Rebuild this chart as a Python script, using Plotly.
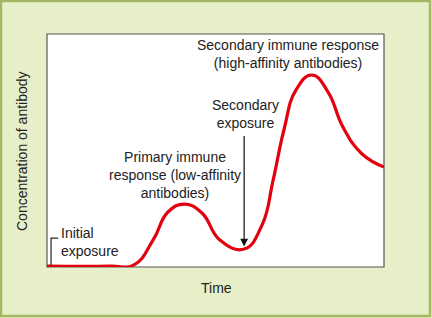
import plotly.graph_objects as go

# Curve of antibody concentration (arbitrary units, 0-100 scales)
time_vals = [0, 18.7, 25.8, 31.5, 35.9, 40.9, 46.0, 51.3, 58.5, 63.8, 67.1, 70.3,
             73.9, 78.6, 83.4, 87.8, 93.5, 100]
conc_vals = [0.4, 0.4, 0.9, 11.6, 23.6, 27.0, 23.2, 11.6, 7.7, 18.0, 37.3, 58.8,
             76.0, 82.4, 75.1, 60.1, 48.5, 42.9]

W, H = 432, 318
L, R, T, B = 47, 384, 34, 267
FONT = "Liberation Sans, Arial, sans-serif"
TXT = "#222222"
FS = 14


def px(x):
    return (x - L) / (R - L)


def py(y):
    return (B - y) / (B - T)


fig = go.Figure()
fig.add_trace(go.Scatter(x=time_vals, y=conc_vals, mode="lines",
                         line=dict(color="#e3000f", width=3.2, shape="spline", smoothing=1.3),
                         cliponaxis=False, hoverinfo="skip", showlegend=False))

annots = [
    dict(x=71.5, y=91.6, text="Secondary immune response<br>(high-affinity antibodies)"),
    dict(x=58.8, y=65.5, text="Secondary<br>exposure"),
    dict(x=38.0, y=39.5, text="Primary immune<br>response (low-affinity<br>antibodies)"),
]
for a in annots:
    fig.add_annotation(x=a["x"], y=a["y"], xref="x", yref="y", text=a["text"],
                       showarrow=False, xanchor="center", yanchor="middle", align="center",
                       font=dict(family=FONT, size=FS, color=TXT))

fig.add_annotation(x=3.5, y=10.7, xref="x", yref="y", text="Initial<br>exposure",
                   showarrow=False, xanchor="left", yanchor="middle", align="left",
                   font=dict(family=FONT, size=FS, color=TXT))

# secondary exposure arrow
fig.add_annotation(x=58.5, y=8.8, xref="x", yref="y", ax=0, ay=-112, text="",
                   showarrow=True, arrowhead=2, arrowsize=1.3, arrowwidth=1.2, arrowcolor="#111111")

# initial exposure bracket
fig.add_shape(type="path", xref="x", yref="y",
              path="M 1.2,0.4 L 1.2,12.4 L 3.3,12.4",
              line=dict(color="#222222", width=1.2))

# axis titles
fig.add_annotation(x=px(216), y=py(288), xref="paper", yref="paper", text="Time",
                   showarrow=False, xanchor="center", yanchor="middle",
                   font=dict(family=FONT, size=FS, color=TXT))
fig.add_annotation(x=px(22), y=py(151), xref="paper", yref="paper",
                   text="Concentration of antibody", textangle=-90,
                   showarrow=False, xanchor="center", yanchor="middle",
                   font=dict(family=FONT, size=FS, color=TXT))

# plot frame
fig.add_shape(type="rect", xref="paper", yref="paper", x0=0, x1=1, y0=0, y1=1,
              line=dict(color="#555555", width=1.2), layer="below")
# outer green border
fig.add_shape(type="rect", xref="paper", yref="paper",
              x0=px(1), x1=px(430), y0=py(316), y1=py(1),
              line=dict(color="#a3b862", width=2.5), layer="below")

fig.update_xaxes(range=[0, 100], visible=False, fixedrange=True)
fig.update_yaxes(range=[0, 100], visible=False, fixedrange=True)
fig.update_layout(width=W, height=H, margin=dict(l=L, r=W - R, t=T, b=H - B),
                  paper_bgcolor="#e7efc9", plot_bgcolor="#ffffff",
                  font=dict(family=FONT))

fig.write_html("out.html", config={"displayModeBar": False})
